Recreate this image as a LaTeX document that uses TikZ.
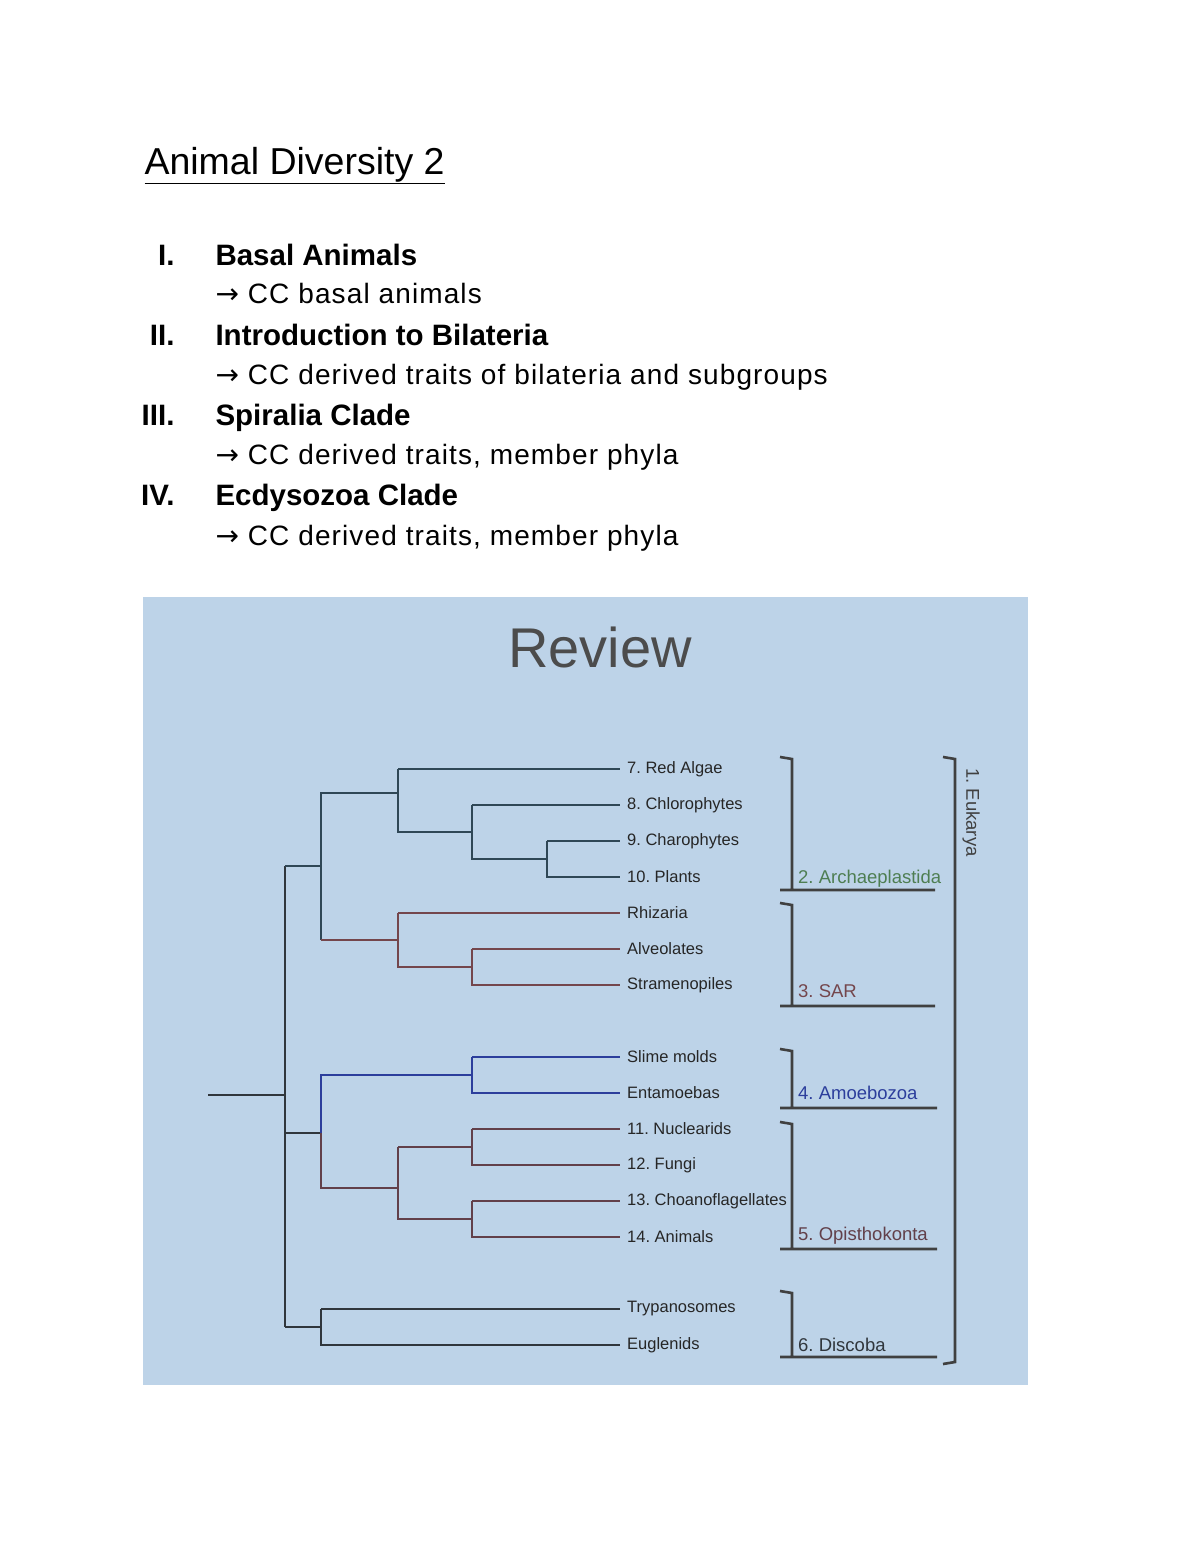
\documentclass[tikz,border=0pt]{standalone}
\usepackage{fontspec}
\setmainfont{Liberation Sans}
\newfontfamily\symfont{DejaVu Sans}
\usetikzlibrary{positioning}
\frenchspacing
\definecolor{slide}{HTML}{BDD3E8}
\definecolor{plantc}{HTML}{2F4756}
\definecolor{sarc}{HTML}{74464C}
\definecolor{amoc}{HTML}{2C3E9C}
\definecolor{opic}{HTML}{62404A}
\definecolor{disc}{HTML}{30363C}
\definecolor{archc}{HTML}{4E7E52}
\tikzset{
	heading/.style={anchor=base west, font=\fontsize{29.5}{30}\selectfont\bfseries},
	roman/.style={anchor=base east, font=\fontsize{29.5}{30}\selectfont\bfseries},
	sub/.style={anchor=base west, font=\fontsize{28}{29}\selectfont\addfontfeature{LetterSpace=4}},
	leaf/.style={anchor=west, inner sep=0pt, text=black!85, font=\fontsize{16.5}{17}\selectfont},
	clade/.style={anchor=base west, inner sep=0pt, font=\fontsize{18.5}{19}\selectfont},
	branch/.style={line width=2.4pt},
	bracket/.style={line width=2.6pt, draw=black!75},
}
\newcommand{\arr}{{\symfont →}\ }
\begin{document}
\begin{tikzpicture}[x=1pt, y=-1pt]
	\useasboundingbox (0,0) rectangle (1200,1553);
	\node[anchor=base west, font=\fontsize{37.5}{38}\selectfont] (title) at (141,174) {\underline{Animal Diversity 2}};
%
	\node[roman] (r1) at (178,265) {I.};
	\node[heading] (h1) at (212,265) {Basal Animals};
	\node[sub] (s1) at (212,303) {\arr CC basal animals};
	\node[roman] (r2) at (178,345) {II.};
	\node[heading] (h2) at (212,345) {Introduction to Bilateria};
	\node[sub] (s2) at (212,384) {\arr CC derived traits of bilateria and subgroups};
	\node[roman] (r3) at (178,425) {III.};
	\node[heading] (h3) at (212,425) {Spiralia Clade};
	\node[sub] (s3) at (212,464) {\arr CC derived traits, member phyla};
	\node[roman] (r4) at (178,505) {IV.};
	\node[heading] (h4) at (212,505) {Ecdysozoa Clade};
	\node[sub] (s4) at (212,545) {\arr CC derived traits, member phyla};
%
	\fill[slide] (143,597) rectangle (1028,1385);
	\node[text=black!70, font=\fontsize{56}{58}\selectfont] (review) at (600,647) {Review};
%
	\node[leaf] (l7)  at (627,769)  {7. Red Algae};
	\node[leaf] (l8)  at (627,805)  {8. Chlorophytes};
	\node[leaf] (l9)  at (627,841)  {9. Charophytes};
	\node[leaf] (l10) at (627,877)  {10. Plants};
	\node[leaf] (lr)  at (627,913)  {Rhizaria};
	\node[leaf] (la)  at (627,949)  {Alveolates};
	\node[leaf] (ls)  at (627,985)  {Stramenopiles};
	\node[leaf] (lsm) at (627,1057) {Slime molds};
	\node[leaf] (le)  at (627,1093) {Entamoebas};
	\node[leaf] (l11) at (627,1129) {11. Nuclearids};
	\node[leaf] (l12) at (627,1165) {12. Fungi};
	\node[leaf] (l13) at (627,1201) {13. Choanoflagellates};
	\node[leaf] (l14) at (627,1237) {14. Animals};
	\node[leaf] (lt)  at (627,1309) {Trypanosomes};
	\node[leaf] (leu) at (627,1345) {Euglenids};
%
	\coordinate (root) at (208,1095);
	\coordinate (k) at (285,1095);
	\coordinate (ka) at (321,866);
	\coordinate (kp) at (398,793);
	\coordinate (kc) at (472,832);
	\coordinate (kch) at (547,859);
	\coordinate (ks) at (398,940);
	\coordinate (ksa) at (472,967);
	\coordinate (kb) at (321,1133);
	\coordinate (km) at (472,1075);
	\coordinate (ko) at (398,1188);
	\coordinate (kn) at (472,1147);
	\coordinate (kan) at (472,1219);
	\coordinate (kd) at (321,1327);
%
	\draw[branch, disc] (root) -- (k) (k |- ka) -- (k |- kd);
	\draw[branch, plantc] (k |- ka) -| (ka |- kp) -- (kp) (ka) -- (ka |- ks);
	\draw[branch, plantc] (kp |- l7.west) -- ([xshift=-7pt]l7.west) (kp |- l7.west) -- (kp |- kc) -- (kc);
	\draw[branch, plantc] (kc |- l8.west) -- ([xshift=-7pt]l8.west) (kc |- l8.west) -- (kc |- kch) -- (kch);
	\draw[branch, plantc] (kch |- l9.west) -- ([xshift=-7pt]l9.west) (kch |- l9.west) -- (kch |- l10.west) -- ([xshift=-7pt]l10.west);
	\draw[branch, sarc] (ka |- ks) -- (ks) (ks |- lr.west) -- ([xshift=-7pt]lr.west) (ks |- lr.west) -- (ks |- ksa) -- (ksa);
	\draw[branch, sarc] (ksa |- la.west) -- ([xshift=-7pt]la.west) (ksa |- la.west) -- (ksa |- ls.west) -- ([xshift=-7pt]ls.west);
	\draw[branch, disc] (k |- kb) -- (kb);
	\draw[branch, amoc] (kb) -- (kb |- km) -- (km) (km |- lsm.west) -- ([xshift=-7pt]lsm.west) (km |- lsm.west) -- (km |- le.west) -- ([xshift=-7pt]le.west);
	\draw[branch, opic] (kb) -- (kb |- ko) -- (ko) (ko |- kn) -- (kn) (ko |- kn) -- (ko |- kan) -- (kan);
	\draw[branch, opic] (kn |- l11.west) -- ([xshift=-7pt]l11.west) (kn |- l11.west) -- (kn |- l12.west) -- ([xshift=-7pt]l12.west);
	\draw[branch, opic] (kan |- l13.west) -- ([xshift=-7pt]l13.west) (kan |- l13.west) -- (kan |- l14.west) -- ([xshift=-7pt]l14.west);
	\draw[branch, disc] (k |- kd) -- (kd) (kd |- lt.west) -- ([xshift=-7pt]lt.west) (kd |- lt.west) -- (kd |- leu.west) -- ([xshift=-7pt]leu.west);
%
	\node[clade, text=archc] (c2) at (798,883) {2. Archaeplastida};
	\node[clade, text=sarc] (c3) at (798,997) {3. SAR};
	\node[clade, text=amoc] (c4) at (798,1099) {4. Amoebozoa};
	\node[clade, text=opic] (c5) at (798,1240) {5. Opisthokonta};
	\node[clade, text=disc] (c6) at (798,1351) {6. Discoba};
	\node[clade, rotate=-90, anchor=north west, text=black!75] (c1) at (980,768) {1. Eukarya};
%
	\draw[bracket] (780,757) -- (792,759) -- (792,890) (780,890) -- (935,890);
	\draw[bracket] (780,903) -- (792,905) -- (792,1006) (780,1006) -- (935,1006);
	\draw[bracket] (780,1049) -- (792,1051) -- (792,1108) (780,1108) -- (937,1108);
	\draw[bracket] (780,1122) -- (792,1124) -- (792,1249) (780,1249) -- (937,1249);
	\draw[bracket] (780,1291) -- (792,1293) -- (792,1357) (780,1357) -- (937,1357);
	\draw[bracket] (943,757) -- (955,759) -- (955,1362) -- (943,1364);
\end{tikzpicture}
\end{document}
